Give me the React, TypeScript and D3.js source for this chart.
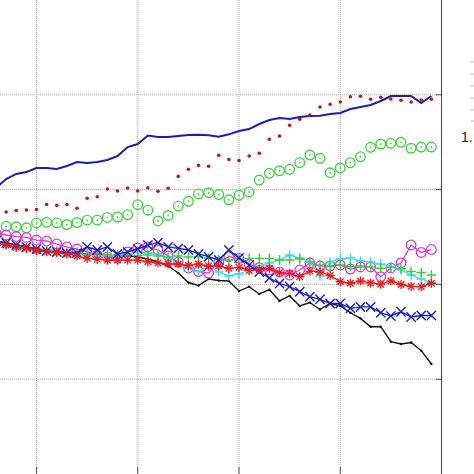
import React from "react";
import * as d3 from "d3";

const X = [0.6, 0.7, 0.8, 0.9, 1.0, 1.1, 1.2, 1.3, 1.4, 1.5, 1.6, 1.7, 1.8, 1.9, 2.0, 2.1, 2.2, 2.3, 2.4, 2.5, 2.6, 2.7, 2.8, 2.9, 3.0, 3.1, 3.2, 3.3, 3.4, 3.5, 3.6, 3.7, 3.8, 3.9, 4.0, 4.1, 4.2, 4.3, 4.4, 4.5, 4.6, 4.7, 4.8, 4.9];

const blueLine = [30.17, 31.12, 31.65, 31.86, 32.28, 32.28, 32.17, 32.49, 32.91, 32.81, 32.91, 33.12, 33.54, 34.49, 34.81, 35.71, 35.55, 35.55, 35.65, 35.76, 35.79, 35.73, 35.58, 35.83, 36.18, 36.39, 36.92, 37.34, 37.55, 37.45, 37.66, 37.76, 37.80, 37.97, 38.08, 38.50, 38.71, 38.92, 39.35, 39.87, 39.87, 39.87, 39.14, 39.87];

const redDots = [null, 27.64, 27.80, 27.85, 27.90, 28.43, 28.34, 28.43, 28.03, 29.08, 29.25, 30.06, 29.85, 30.17, 29.85, 30.20, 29.82, 30.14, 31.40, 32.14, 32.56, 32.46, 33.62, 33.17, 33.07, 33.54, 33.83, 35.31, 35.65, 36.78, 37.42, 37.87, 38.71, 39.00, 39.24, 39.80, 39.84, 39.53, 39.74, 39.56, 39.42, 39.24, 39.45, 39.53];

const greenCircles = [null, 26.13, 26.08, 25.97, 26.48, 26.55, 26.48, 26.32, 26.53, 26.77, 26.77, 27.06, 27.11, 27.35, 28.41, 27.83, 26.69, 27.27, 28.25, 28.77, 29.54, 29.67, 29.48, 28.92, 29.40, 29.75, 31.01, 31.72, 31.99, 32.14, 32.84, 33.65, 33.30, 31.78, 32.28, 32.84, 33.47, 34.46, 34.81, 34.88, 34.99, 34.36, 34.49, 34.49];

const magenta = [25.42, 25.21, 25.05, 24.95, 24.68, 24.58, 24.26, 23.95, 23.73, 23.42, 23.10, 22.89, 22.78, 23.42, 23.84, 23.95, 23.63, 23.00, 22.36, 21.73, 21.36, 21.20, 22.36, 22.92, 22.75, 22.12, 21.76, 21.52, 21.31, 20.99, 21.52, 22.26, 21.94, 21.94, 22.05, 21.62, 21.84, 21.84, 20.81, 21.73, 22.26, 24.16, 23.37, 23.68];

const blueX = [24.58, 24.37, 24.16, 23.95, 23.73, 23.52, 23.42, 23.31, 23.31, 23.95, 23.63, 23.95, 23.21, 23.42, 23.73, 24.16, 24.40, 23.95, 23.79, 23.63, 23.21, 22.92, 22.57, 23.63, 22.78, 22.05, 21.31, 20.68, 20.09, 19.78, 19.23, 18.70, 18.43, 17.99, 17.99, 17.48, 17.62, 17.62, 17.01, 16.67, 17.12, 16.56, 16.72, 16.72];

const black = [24.58, 24.37, 24.16, 23.95, 23.73, 23.63, 23.52, 23.42, 23.31, 23.21, 23.10, 23.00, 22.89, 23.00, 22.89, 22.68, 22.36, 21.94, 21.20, 20.20, 19.88, 20.57, 20.41, 20.36, 19.30, 19.76, 18.99, 19.44, 18.25, 18.78, 17.72, 18.09, 17.35, 18.01, 17.72, 17.01, 16.42, 15.54, 15.54, 13.96, 13.71, 13.87, 13.01, 11.60];

const redStar = [24.37, 24.16, 23.91, 23.81, 23.55, 23.45, 23.34, 23.21, 23.00, 22.75, 22.65, 22.57, 22.57, 22.57, 22.57, 22.39, 22.26, 22.15, 22.15, 21.99, 22.15, 21.94, 21.94, 21.70, 21.80, 21.47, 21.57, 21.70, 21.23, 21.17, 20.81, 21.41, 21.31, 20.94, 20.28, 20.12, 20.36, 20.15, 20.02, 20.36, 19.99, 19.80, 19.76, 20.12];

const cyan = [24.47, 24.26, 24.05, 23.84, 23.73, 23.63, 23.52, 23.31, 23.21, 23.10, 23.00, 23.00, 23.00, 23.10, 23.42, 23.31, 23.21, 22.78, 22.26, 21.73, 21.36, 21.94, 21.31, 20.89, 21.10, 21.52, 21.94, 22.26, 22.57, 23.10, 22.78, 22.36, 20.89, 22.36, 22.68, 22.78, 22.47, 22.36, 22.15, 21.89, 21.52, 20.99, 20.57, 20.15];

const greenPlus = [null, 24.26, 24.05, 23.95, 23.73, 23.58, 23.47, 23.36, 23.42, 23.21, 23.26, 23.15, 23.10, 23.10, 23.05, 23.10, 23.00, 22.89, 23.00, 22.89, 22.92, 22.78, 22.63, 22.57, 22.68, 22.75, 22.75, 22.75, 22.57, 22.57, 22.68, 22.39, 22.05, 21.87, 22.05, 21.87, 21.94, 21.84, 21.70, 21.80, 21.68, 21.36, 21.26, 20.99];

const xGrid = [1, 2, 3, 4];
const yGrid = [10, 20, 30, 40];
const sideLabel = "1.";
const sideMarks = [62, 74, 86, 98, 110, 121];

type Pt = { x: number; y: number };

export default function App() {
  const W = 474;
  const H = 474;
  const x = d3.scaleLinear().domain([1, 5]).range([36.5, 441.5]);
  const y = d3.scaleLinear().domain([0, 50]).range([474, 0]);

  const pts = (vals: (number | null)[]): Pt[] =>
    vals
      .map((v, i) => (v === null ? null : { x: x(X[i]), y: y(v as number) }))
      .filter((p): p is Pt => p !== null);

  const line = d3
    .line<Pt>()
    .x((d) => d.x)
    .y((d) => d.y);

  const right = x(5);

  const xMark = (p: Pt, s: number, key: string, color: string, sw: number) => (
    <g key={key} stroke={color} strokeWidth={sw} strokeLinecap="round">
      <line x1={p.x - s} y1={p.y - s} x2={p.x + s} y2={p.y + s} />
      <line x1={p.x - s} y1={p.y + s} x2={p.x + s} y2={p.y - s} />
    </g>
  );
  const plusMark = (p: Pt, s: number, key: string, color: string, sw: number) => (
    <g key={key} stroke={color} strokeWidth={sw}>
      <line x1={p.x - s} y1={p.y} x2={p.x + s} y2={p.y} />
      <line x1={p.x} y1={p.y - s} x2={p.x} y2={p.y + s} />
    </g>
  );
  const starMark = (p: Pt, s: number, key: string, color: string, sw: number) => {
    const d = s * 0.72;
    return (
      <g key={key} stroke={color} strokeWidth={sw}>
        <line x1={p.x - s} y1={p.y} x2={p.x + s} y2={p.y} />
        <line x1={p.x} y1={p.y - s} x2={p.x} y2={p.y + s} />
        <line x1={p.x - d} y1={p.y - d} x2={p.x + d} y2={p.y + d} />
        <line x1={p.x - d} y1={p.y + d} x2={p.x + d} y2={p.y - d} />
      </g>
    );
  };

  const pBlue = pts(blueLine);
  const pRedDots = pts(redDots);
  const pGreenC = pts(greenCircles);
  const pMag = pts(magenta);
  const pBlueX = pts(blueX);
  const pBlack = pts(black);
  const pRedStar = pts(redStar);
  const pCyan = pts(cyan);
  const pGreenP = pts(greenPlus);

  const cBlue = "#1c1cb8";
  const cBlueX = "#1a1acc";
  const cRedDot = "#c41414";
  const cGreen = "#3ed83e";
  const cMag = "#d93ad9";
  const cCyan = "#3cdede";
  const cGreenP = "#3ccc3c";
  const cRed = "#f01818";

  return (
    <svg
      width={W}
      height={H}
      style={{ position: "absolute", left: 0, top: 0, background: "#fff" }}
      fontFamily="Liberation Sans, Arial, sans-serif"
    >
      <rect x={0} y={0} width={W} height={H} fill="#fff" />
      <defs>
        <clipPath id="plot">
          <rect x={0} y={0} width={right} height={H} />
        </clipPath>
      </defs>
      {/* grid */}
      {xGrid.map((g) => (
        <line key={"gx" + g} x1={x(g)} x2={x(g)} y1={0} y2={H} stroke="#a8a8a8" strokeWidth={1} strokeDasharray="1,1" />
      ))}
      {yGrid.map((g) => (
        <line key={"gy" + g} x1={0} x2={right} y1={y(g)} y2={y(g)} stroke="#a8a8a8" strokeWidth={1} strokeDasharray="1,1" />
      ))}
      {/* ticks */}
      {xGrid.map((g) => (
        <line key={"tx" + g} x1={x(g)} x2={x(g)} y1={H - 7} y2={H} stroke="#555" strokeWidth={1} />
      ))}
      {yGrid.map((g) => (
        <line key={"ty" + g} x1={right - 6} x2={right} y1={y(g)} y2={y(g)} stroke="#555" strokeWidth={1} />
      ))}
      <line x1={right} x2={right} y1={0} y2={H} stroke="#444" strokeWidth={1} />

      <g clipPath="url(#plot)">
        {/* blue solid line */}
        <path d={line(pBlue) || ""} fill="none" stroke={cBlue} strokeWidth={2} />
        {/* red dots */}
        {pRedDots.map((p, i) => (
          <circle key={"rd" + i} cx={p.x} cy={p.y} r={1.8} fill={cRedDot} />
        ))}
        {/* green circles */}
        {pGreenC.map((p, i) => (
          <g key={"gc" + i}>
            <circle cx={p.x} cy={p.y} r={4.8} fill="none" stroke={cGreen} strokeWidth={1.4} />
            <circle cx={p.x} cy={p.y} r={0.9} fill={cGreen} />
          </g>
        ))}
        {/* black line */}
        <path d={line(pBlack) || ""} fill="none" stroke="#111" strokeWidth={1.4} />
        {pBlack.map((p, i) => (
          <circle key={"bk" + i} cx={p.x} cy={p.y} r={1.2} fill="#111" />
        ))}
        {/* magenta circles */}
        <path d={line(pMag) || ""} fill="none" stroke={cMag} strokeWidth={1.3} />
        {pMag.map((p, i) => (
          <circle key={"mg" + i} cx={p.x} cy={p.y} r={4.8} fill="none" stroke={cMag} strokeWidth={1.3} />
        ))}
        {/* cyan plus */}
        <path d={line(pCyan) || ""} fill="none" stroke={cCyan} strokeWidth={1.3} />
        {pCyan.map((p, i) => plusMark(p, 4.8, "cy" + i, cCyan, 1.4))}
        {/* green plus */}
        {pGreenP.map((p, i) => plusMark(p, 4.8, "gp" + i, cGreenP, 1.4))}
        {/* blue x */}
        <path d={line(pBlueX) || ""} fill="none" stroke={cBlueX} strokeWidth={1.3} />
        {pBlueX.map((p, i) => xMark(p, 4.2, "bx" + i, cBlueX, 1.4))}
        {/* red star */}
        <path d={line(pRedStar) || ""} fill="none" stroke={cRed} strokeWidth={1.3} />
        {pRedStar.map((p, i) => starMark(p, 4.6, "rs" + i, cRed, 1.3))}
      </g>

      {/* right-side fragment */}
      {sideMarks.map((m, i) => (
        <line key={"sm" + i} x1={471} x2={474} y1={m} y2={m} stroke="#bbb" strokeWidth={1} />
      ))}
      <text x={461} y={142} fontSize={14} fill="#222">
        {sideLabel}
      </text>
    </svg>
  );
}
